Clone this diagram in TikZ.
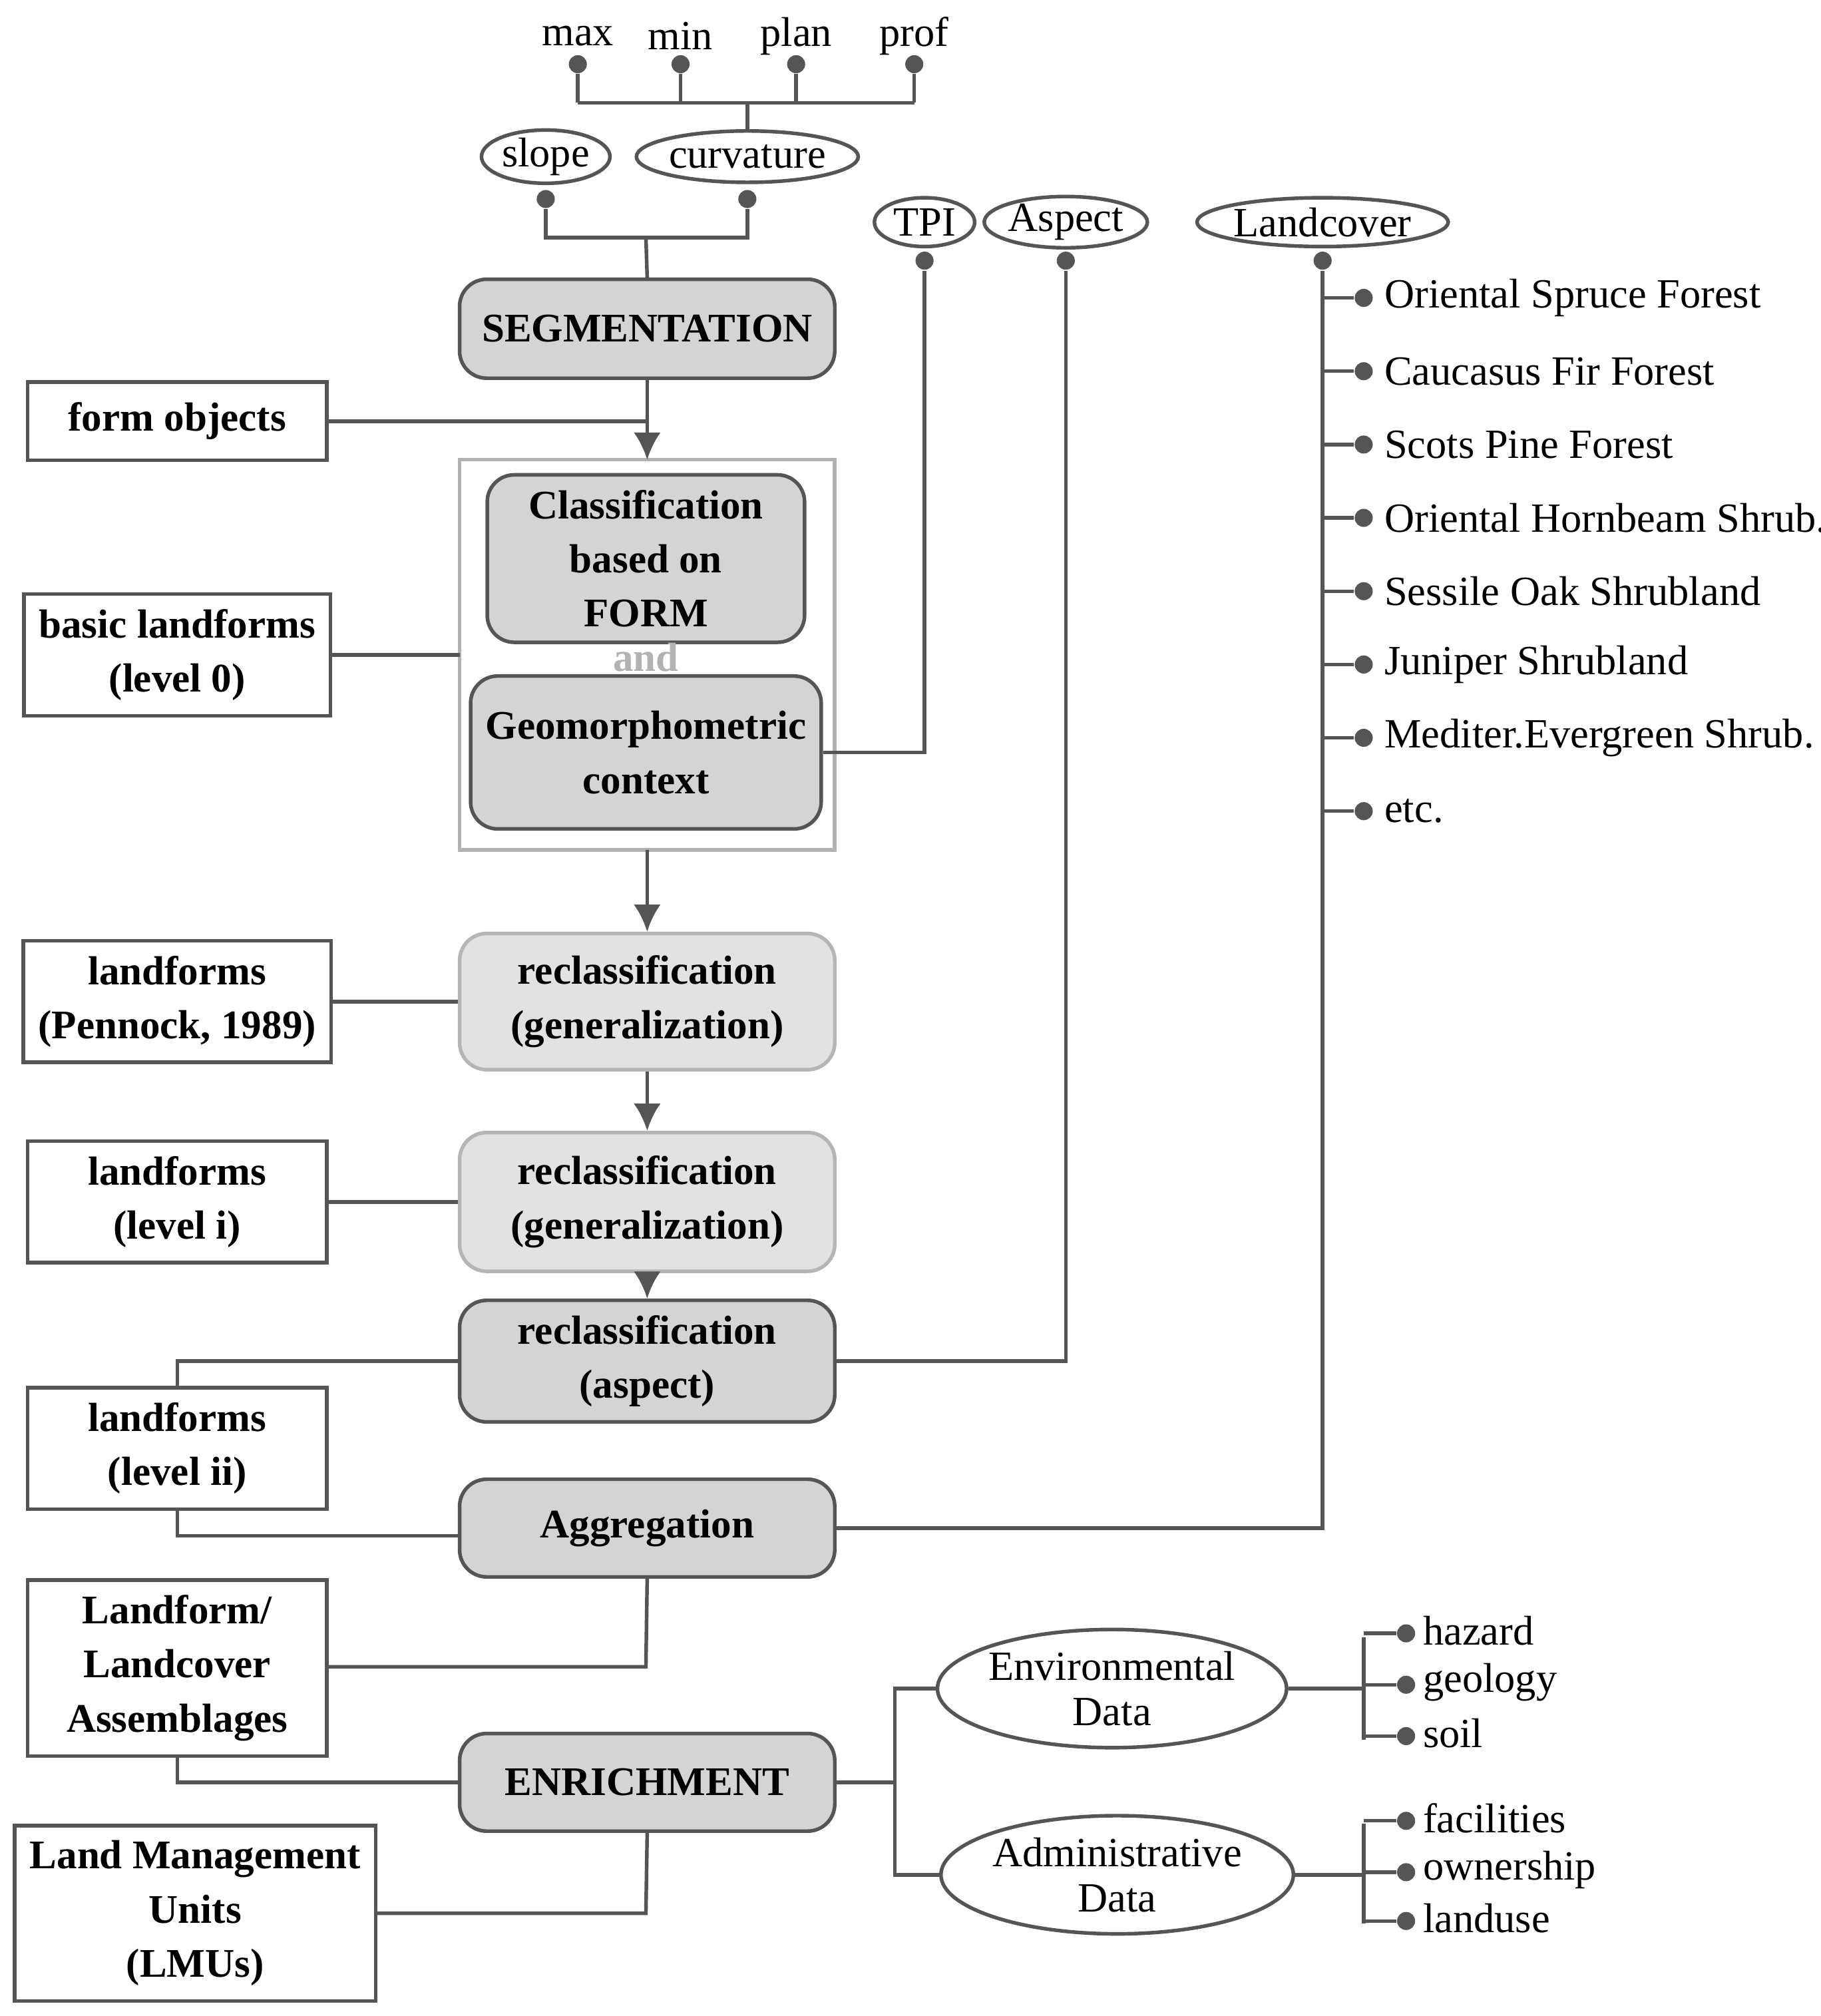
\documentclass[tikz,border=0pt]{standalone}
\usepackage{fontspec}
\setmainfont{Liberation Serif}
\usetikzlibrary{shapes.geometric,arrows.meta,calc}
\definecolor{ln}{HTML}{555555}
\definecolor{bx}{HTML}{D4D4D4}
\definecolor{lbx}{HTML}{E2E2E2}
\tikzset{
  every node/.style={font=\fontsize{9.2}{10}\selectfont},
  proc/.style={draw=ln, thick, fill=bx, rounded corners=6pt, align=center, font=\fontsize{9}{12}\selectfont\bfseries},
  lproc/.style={proc, draw=lbx!80!black, fill=lbx},
  outbox/.style={draw=ln, thick, fill=white, align=center, font=\fontsize{9}{12}\selectfont\bfseries},
  oval/.style={draw=ln, thick, ellipse, inner sep=0pt},
  wire/.style={draw=ln, thick},
  flow/.style={draw=ln, thick, -{Latex[length=6pt,width=6pt]}},
  dot/.style={circle, fill=ln, inner sep=0pt, minimum size=4pt},
  lbl/.style={anchor=west, inner sep=1pt},
}
\begin{document}
\begin{tikzpicture}[x=0.01cm,y=-0.01cm]
\useasboundingbox (0,0) rectangle (1418,1570);
\fill[white] (0,0) rectangle (1418,1570);

% top parameters
\foreach \t/\x in {max/450,min/530,plan/620,prof/712}{
  \node (p\t) at (\x,28) {\t};
  \node[dot] (d\t) at (\x,50) {};
  \draw[wire] (d\t) -- (\x,80);
}
\draw[wire] (450,80) -- (712,80);
\node[oval, minimum width=1.0cm, minimum height=0.4cm] (slope) at (425,122) {slope};
\node[oval, minimum width=1.28cm, minimum height=0.4cm] (curv) at (582,122) {curvature};
\draw[wire] (582,80) -- (curv.north);
\node[dot] (dsl) at (425,155) {};
\node[dot] (dcu) at (582,155) {};
\draw[wire] (dsl) -- (425,185) -- (582,185) -- (dcu);

% main column
\node[proc, minimum width=2.92cm, minimum height=0.77cm] (seg) at (504,256) {SEGMENTATION};
\draw[wire] (503,185) -- (seg.north);
\draw[draw=gray!60, thick] (358,358) rectangle (650,662);
\coordinate (inbox) at (504,358);
\node[proc, minimum width=2.47cm, minimum height=1.2cm] (cls) at (503,435) {Classification\\based on\\FORM};
\node[text=gray!60, font=\fontsize{9}{10}\selectfont\bfseries] (and) at (503,512) {and};
\node[proc, minimum width=2.47cm, minimum height=1.19cm] (geo) at (503,586) {Geomorphometric\\context};
\coordinate (boxbot) at (504,662);
\node[lproc, minimum width=2.92cm, minimum height=1.06cm] (rc1) at (504,780) {reclassification\\(generalization)};
\node[lproc, minimum width=2.92cm, minimum height=1.08cm] (rc2) at (504,936) {reclassification\\(generalization)};
\node[proc, minimum width=2.92cm, minimum height=0.76cm] (rca) at (504,1060) {reclassification\\(aspect)};
\node[proc, minimum width=2.92cm, minimum height=0.76cm] (agg) at (504,1190) {Aggregation};
\node[proc, minimum width=2.92cm, minimum height=0.76cm] (enr) at (504,1388) {ENRICHMENT};
\draw[flow] (seg.south) -- (inbox);
\draw[flow] (boxbot) -- (rc1.north);
\draw[flow] (rc1.south) -- (rc2.north);
\draw[flow] (rc2.south) -- (rca.north);

% outputs on the left
\node[outbox, minimum width=2.33cm, minimum height=0.61cm] (fo) at (138,328) {form objects};
\node[outbox, minimum width=2.33cm, minimum height=0.86cm] (bl) at (138,510) {basic landforms\\(level 0)};
\node[outbox, minimum width=2.33cm, minimum height=0.86cm] (lp) at (138,780) {landforms\\(Pennock, 1989)};
\node[outbox, minimum width=2.33cm, minimum height=0.86cm] (li) at (138,936) {landforms\\(level i)};
\node[outbox, minimum width=2.33cm, minimum height=0.86cm] (lii) at (138,1128) {landforms\\(level ii)};
\node[outbox, minimum width=2.33cm, minimum height=1.14cm] (lla) at (138,1299) {Landform/\\Landcover\\Assemblages};
\node[outbox, minimum width=2.6cm, minimum height=1.24cm] (lmu) at (152,1490) {Land Management\\Units\\(LMUs)};
\draw[wire] (fo.east) -- (503,328);
\draw[wire] (bl.east) -- (358,510);
\draw[wire] (lp.east) -- (rc1.west);
\draw[wire] (li.east) -- (rc2.west);
\draw[wire] (rca.west) -- (138,1060) -- (lii.north);
\draw[wire] (lii.south) -- (138,1196) -- (agg.west |- 0,1196);
\draw[wire] (agg.south) -- (503,1298) -- (lla.east |- 0,1298);
\draw[wire] (lla.south) -- (138,1388) -- (enr.west);
\draw[wire] (enr.south) -- (503,1490) -- (lmu.east);

% TPI, Aspect
\node[oval, minimum width=0.78cm, minimum height=0.38cm] (tpi) at (720,173) {TPI};
\node[oval, minimum width=1.08cm, minimum height=0.38cm] (asp) at (830,173) {Aspect};
\node[dot] (dtpi) at (720,203) {};
\node[dot] (dasp) at (830,203) {};
\draw[wire] (geo.east) -- (720,586) -- (dtpi);
\draw[wire] (rca.east) -- (830,1060) -- (dasp);

% Landcover
\node[oval, minimum width=1.68cm, minimum height=0.38cm] (lc) at (1030,173) {Landcover};
\node[dot] (dlc) at (1030,203) {};
\draw[wire] (agg.east) -- (1030,1190) -- (dlc);
\foreach \t [count=\i] in {Oriental Spruce Forest,Caucasus Fir Forest,Scots Pine Forest,Oriental Hornbeam Shrub.,Sessile Oak Shrubland,Juniper Shrubland,Mediter.Evergreen Shrub.,etc.}{
  \pgfmathsetmacro{\yy}{232+57.1*(\i-1)}
  \node[dot] (lcd\i) at (1062,\yy) {};
  \draw[wire] (1030,\yy) -- (lcd\i);
  \node[lbl] (lct\i) at (1074,\yy) {\t};
}

% Enrichment data
\node[oval, minimum width=2.34cm, minimum height=0.92cm, align=center] (env) at (866,1315) {Environmental\\Data};
\node[oval, minimum width=2.34cm, minimum height=0.92cm, align=center] (adm) at (870,1460) {Administrative\\Data};
\draw[wire] (enr.east) -- (697,1388);
\draw[wire] (env.west) -- (697,1315) -- (697,1460) -- (adm.west);
\draw[wire] (env.east) -- (1062,1315);
\draw[wire] (adm.east) -- (1062,1460);
\draw[wire] (1062,1275) -- (1062,1355);
\draw[wire] (1062,1420) -- (1062,1498);
\foreach \t/\yy in {hazard/1272,geology/1312,soil/1352,facilities/1418,ownership/1458,landuse/1496}{
  \node[dot] (e\t) at (1095,\yy) {};
  \draw[wire] (1062,\yy) -- (e\t);
  \node[lbl] (t\t) at (1104,\yy-2) {\t};
}
\end{tikzpicture}
\end{document}
